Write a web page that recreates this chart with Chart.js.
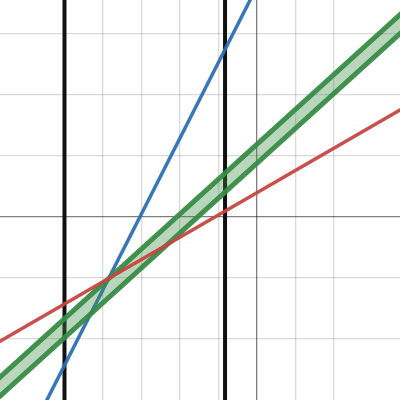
<!DOCTYPE html>
<html><head><meta charset="utf-8">
<script src="https://cdn.jsdelivr.net/npm/chart.js@4"></script>
<style>html,body{margin:0;padding:0;background:#fff}</style>
</head><body>
<canvas id="c" width="400" height="400"></canvas>
<script>
const xRange = [-6.675, 3.714];
const yRange = [-3.008, 3.549];
const lineEnds = [-7, 4];
const redLine = {slope: 0.365, intercept: 0.39};
const blueLine = {slope: 1.242, intercept: 3.77};
const greenUpper = {slope: 0.572, intercept: 1.185};
const greenLower = {slope: 0.572, intercept: 0.875};
const verticalXs = [-5, -0.83];

const pts = l => lineEnds.map(x => ({x, y: l.slope * x + l.intercept}));
const vert = x => [{x, y: -10}, {x, y: 10}];
const base = {showLine: true, pointRadius: 0, borderCapStyle: 'butt', fill: false};

new Chart(document.getElementById('c'), {
  type: 'scatter',
  data: {datasets: [
    {...base, data: pts(redLine), borderColor: 'rgba(199,68,64,0.95)', borderWidth: 3.5},
    {...base, data: pts(greenUpper), borderColor: 'rgba(56,140,70,0.95)', borderWidth: 5},
    {...base, data: pts(greenLower), borderColor: 'rgba(56,140,70,0.95)', borderWidth: 5,
      fill: '-1', backgroundColor: 'rgba(56,140,70,0.35)'},
    {...base, data: pts(blueLine), borderColor: 'rgba(45,112,179,0.95)', borderWidth: 3.5},
    {...base, data: vert(verticalXs[0]), borderColor: '#111', borderWidth: 4},
    {...base, data: vert(verticalXs[1]), borderColor: '#111', borderWidth: 4}
  ]},
  options: {
    responsive: false, animation: false,
    layout: {padding: 0},
    plugins: {legend: {display: false}, tooltip: {enabled: false}},
    scales: {
      x: {type: 'linear', min: xRange[0], max: xRange[1],
        ticks: {display: false, stepSize: 1},
        afterBuildTicks: a => { a.ticks = a.ticks.filter(t => Math.abs(t.value - Math.round(t.value)) < 1e-6); },
        border: {display: false},
        grid: {drawTicks: false, lineWidth: 1.3,
          color: c => c.tick && c.tick.value === 0 ? 'rgba(0,0,0,0.5)' : 'rgba(0,0,0,0.15)'}},
      y: {type: 'linear', min: yRange[0], max: yRange[1],
        ticks: {display: false, stepSize: 1},
        afterBuildTicks: a => { a.ticks = a.ticks.filter(t => Math.abs(t.value - Math.round(t.value)) < 1e-6); },
        border: {display: false},
        grid: {drawTicks: false, lineWidth: 1.3,
          color: c => c.tick && c.tick.value === 0 ? 'rgba(0,0,0,0.5)' : 'rgba(0,0,0,0.15)'}}
    }
  }
});
</script>
</body></html>
